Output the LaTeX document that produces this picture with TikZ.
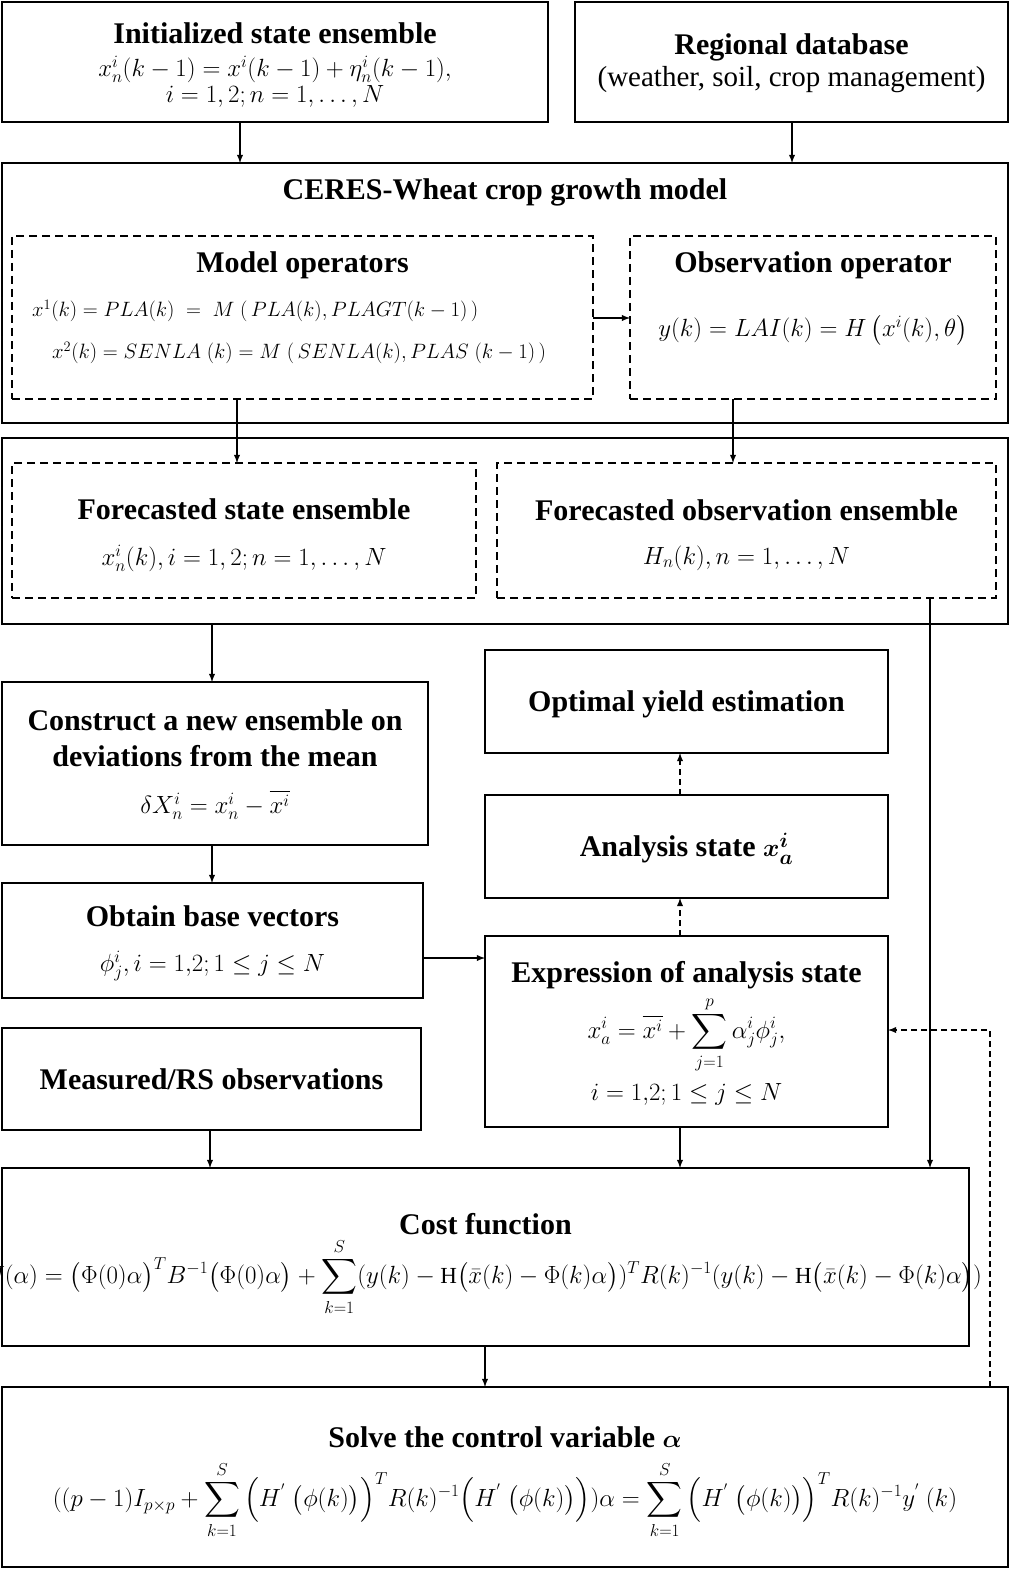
\documentclass[tikz,border=0pt]{standalone}
\usepackage{amsmath}
\usepackage{fontspec}
\setmainfont{Liberation Serif}
\begin{document}
\begin{tikzpicture}[x=1pt,y=-1pt,
  box/.style={draw,line width=2.3pt,inner sep=0pt,outer sep=0pt},
  dbox/.style={draw,line width=2.3pt,dash pattern=on 8pt off 5pt,inner sep=0pt,outer sep=0pt},
  ttl/.style={font=\fontsize{30}{36}\selectfont\bfseries,align=center,inner sep=0pt},
  mth/.style={font=\fontsize{24}{30}\selectfont,align=center,inner sep=0pt},
  arr/.style={->,>=latex,line width=1.8pt},
  darr/.style={->,>=latex,line width=1.8pt,dash pattern=on 6pt off 4pt}]
\useasboundingbox (0,0) rectangle (1024,1589);
\node[box,minimum width=546pt,minimum height=120pt] (init) at (275,62) {};
\node[box,minimum width=433pt,minimum height=120pt] (reg) at (791.5,62) {};
\node[box,minimum width=1006pt,minimum height=260pt] (ceres) at (505,293) {};
\node[dbox,minimum width=581pt,minimum height=163pt] (mop) at (302.5,317.5) {};
\node[dbox,minimum width=366pt,minimum height=163pt] (oop) at (813,317.5) {};
\node[box,minimum width=1006pt,minimum height=186pt] (fout) at (505,531) {};
\node[dbox,minimum width=464pt,minimum height=135pt] (fst) at (244,530.5) {};
\node[dbox,minimum width=499pt,minimum height=135pt] (fob) at (746.5,530.5) {};
\node[box,minimum width=426pt,minimum height=163pt] (cons) at (215,763.5) {};
\node[box,minimum width=403pt,minimum height=103pt] (opt) at (686.5,701.5) {};
\node[box,minimum width=403pt,minimum height=103pt] (ana) at (686.5,846.5) {};
\node[box,minimum width=421pt,minimum height=115pt] (obt) at (212.5,940.5) {};
\node[box,minimum width=403pt,minimum height=191pt] (exp) at (686.5,1031.5) {};
\node[box,minimum width=419pt,minimum height=102pt] (mea) at (211.5,1079) {};
\node[box,minimum width=967pt,minimum height=178pt] (cost) at (485.5,1257) {};
\node[box,minimum width=1006pt,minimum height=180pt] (solve) at (505,1477) {};

% texts
\node[ttl] (t1) at (275,33) {Initialized state ensemble};
\node[mth] (f1) at (275,82) {$x_n^i(k-1)=x^i(k-1)+\eta_n^i(k-1),$\\[-4pt]$i=1,2;n=1,\dots,N$};
\node[ttl] (t2) at (791.5,47) {Regional database};
\node[font=\fontsize{29}{34}\selectfont,inner sep=0pt] (t2b) at (791.5,80) {(weather, soil, crop management)};
\node[ttl] (t3) at (505,192) {CERES-Wheat crop growth model};
\node[ttl] (t4) at (302.5,265) {Model operators};
\node[mth,anchor=west,font=\fontsize{22}{26}\selectfont] (f4a) at (32,311) {$x^1(k)=PLA(k)\;=\;M\;(\,PLA(k),PLAGT(k-1)\,)$};
\node[mth,anchor=west,font=\fontsize{22}{26}\selectfont] (f4b) at (52,353) {$x^2(k)=SENLA\;(k)=M\;(\,SENLA(k),PLAS\;(k-1)\,)$};
\node[ttl] (t5) at (813,265) {Observation operator};
\node[mth] (f5) at (813,330) {$y(k)=LAI(k)=H\left(x^i(k),\theta\right)$};
\node[ttl] (t6) at (244,509) {Forecasted state ensemble};
\node[mth] (f6) at (244,558) {$x_n^i(k),i=1,2;n=1,\dots,N$};
\node[ttl] (t7) at (746.5,510) {Forecasted observation ensemble};
\node[mth] (f7) at (746.5,558) {$H_n(k),n=1,\dots,N$};
\node[ttl] (t8) at (215,738) {Construct a new ensemble on\\deviations from the mean};
\node[mth] (f8) at (215,805) {$\delta X_n^i=x_n^i-\overline{x^i}$};
\node[ttl] (t9) at (686.5,704) {Optimal yield estimation};
\node[ttl] (t10) at (686.5,849) {Analysis state $\boldsymbol{x_a^i}$};
\node[ttl] (t11) at (212.5,916) {Obtain base vectors};
\node[mth] (f11) at (212.5,966) {$\phi_j^i,i=1{,}2;1\le j\le N$};
\node[ttl] (t12) at (686.5,975) {Expression of analysis state};
\node[mth] (f12) at (686.5,1035) {$\displaystyle x_a^i=\overline{x^i}+\sum_{j=1}^{p}\alpha_j^i\phi_j^i,$};
\node[mth] (f12b) at (686.5,1094) {$i=1{,}2;1\le j\le N$};
\node[ttl] (t13) at (211.5,1079) {Measured/RS observations};
\node[ttl] (t14) at (485.5,1224) {Cost function};
\node[font=\fontsize{23}{27}\selectfont,inner sep=0pt] (f14) at (485.5,1277) {$\displaystyle J(\alpha)=\big(\Phi(0)\alpha\big)^T B^{-1}\big(\Phi(0)\alpha\big)+\sum_{k=1}^{S}(y(k)-\mathrm{H}\big(\bar x(k)-\Phi(k)\alpha\big))^T R(k)^{-1}(y(k)-\mathrm{H}\big(\bar x(k)-\Phi(k)\alpha\big))$};
\node[ttl] (t15) at (505,1437) {Solve the control variable $\boldsymbol{\alpha}$};
\node[mth,font=\fontsize{26}{30}\selectfont] (f15) at (505,1500) {$\displaystyle ((p-1)I_{p\times p}+\sum_{k=1}^{S}\Big(H^{'}\ \big(\phi(k)\big)\Big)^T R(k)^{-1}\Big(H^{'}\ \big(\phi(k)\big)\Big))\alpha=\sum_{k=1}^{S}\Big(H^{'}\ \big(\phi(k)\big)\Big)^T R(k)^{-1}y^{'}\ (k)$};

% helper coordinates
\coordinate (xa) at (240,0);
\coordinate (xb) at (792,0);
\coordinate (xc) at (237,0);
\coordinate (xd) at (733,0);
\coordinate (xe) at (212,0);
\coordinate (xf) at (930,0);
\coordinate (xg) at (680,0);
\coordinate (xh) at (210,0);
\coordinate (xi) at (485,0);
\coordinate (xj) at (990,0);
\coordinate (ya) at (0,318);
\coordinate (yb) at (0,958);
\coordinate (yc) at (0,1030);
\coordinate (fb) at (990,1030);

\draw[arr] (init.south -| xa) -- (ceres.north -| xa);
\draw[arr] (reg.south -| xb) -- (ceres.north -| xb);
\draw[arr] (mop.east |- ya) -- (oop.west |- ya);
\draw[arr] (mop.south -| xc) -- (fst.north -| xc);
\draw[arr] (oop.south -| xd) -- (fob.north -| xd);
\draw[arr] (fout.south -| xe) -- (cons.north -| xe);
\draw[arr] (fob.south -| xf) -- (cost.north -| xf);
\draw[arr] (cons.south -| xe) -- (obt.north -| xe);
\draw[arr] (obt.east |- yb) -- (exp.west |- yb);
\draw[darr] (exp.north -| xg) -- (ana.south -| xg);
\draw[darr] (ana.north -| xg) -- (opt.south -| xg);
\draw[arr] (mea.south -| xh) -- (cost.north -| xh);
\draw[arr] (exp.south -| xg) -- (cost.north -| xg);
\draw[arr] (cost.south -| xi) -- (solve.north -| xi);
\draw[darr] (solve.north -| xj) -- (fb) -- (exp.east |- yc);
\end{tikzpicture}
\end{document}
